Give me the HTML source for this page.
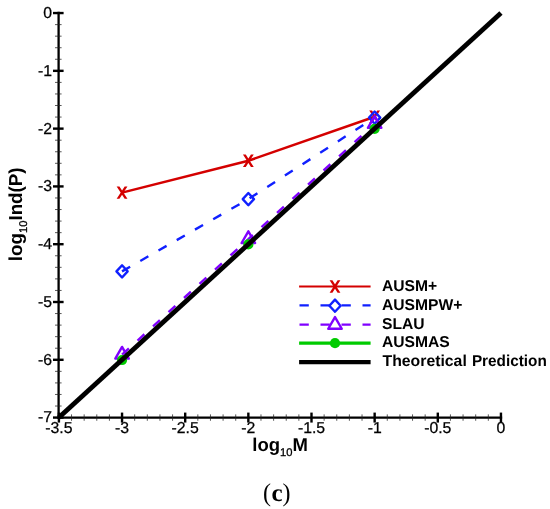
<!DOCTYPE html>
<html><head><meta charset="utf-8"><title>(c)</title>
<style>
html,body{margin:0;padding:0;background:#fff;}
svg{display:block}
text{font-family:"Liberation Sans",Arial,Helvetica,sans-serif;fill:#000;text-rendering:geometricPrecision}
.tk{font-size:15.8px;stroke:#000;stroke-width:0.25px}
.ttl{font-size:18.5px;font-weight:bold}
.sub{font-size:11.2px;font-weight:normal;stroke:#000;stroke-width:0.3px}
.lg{font-size:15.65px;font-weight:bold}
.cap{font-family:"Liberation Serif","Times New Roman",serif;font-size:24px}
</style></head><body>
<svg width="550" height="509" viewBox="0 0 550 509">
<rect width="550" height="509" fill="#fff"/>

<g stroke="#000" fill="none">
<line x1="58.60" y1="11.85" x2="58.60" y2="418.78" stroke-width="2.3"/>
<line x1="57.40" y1="417.58" x2="502.15" y2="417.58" stroke-width="2.3"/>
<line x1="53.00" y1="13.05" x2="63.60" y2="13.05" stroke-width="2.4"/>
<line x1="55.00" y1="24.61" x2="61.60" y2="24.61" stroke-width="0.75" stroke="#222"/>
<line x1="55.00" y1="36.17" x2="61.60" y2="36.17" stroke-width="0.75" stroke="#222"/>
<line x1="55.00" y1="47.72" x2="61.60" y2="47.72" stroke-width="0.75" stroke="#222"/>
<line x1="55.00" y1="59.28" x2="61.60" y2="59.28" stroke-width="0.75" stroke="#222"/>
<line x1="53.00" y1="70.84" x2="63.60" y2="70.84" stroke-width="2.4"/>
<line x1="55.00" y1="82.40" x2="61.60" y2="82.40" stroke-width="0.75" stroke="#222"/>
<line x1="55.00" y1="93.96" x2="61.60" y2="93.96" stroke-width="0.75" stroke="#222"/>
<line x1="55.00" y1="105.51" x2="61.60" y2="105.51" stroke-width="0.75" stroke="#222"/>
<line x1="55.00" y1="117.07" x2="61.60" y2="117.07" stroke-width="0.75" stroke="#222"/>
<line x1="53.00" y1="128.63" x2="63.60" y2="128.63" stroke-width="2.4"/>
<line x1="55.00" y1="140.19" x2="61.60" y2="140.19" stroke-width="0.75" stroke="#222"/>
<line x1="55.00" y1="151.75" x2="61.60" y2="151.75" stroke-width="0.75" stroke="#222"/>
<line x1="55.00" y1="163.30" x2="61.60" y2="163.30" stroke-width="0.75" stroke="#222"/>
<line x1="55.00" y1="174.86" x2="61.60" y2="174.86" stroke-width="0.75" stroke="#222"/>
<line x1="53.00" y1="186.42" x2="63.60" y2="186.42" stroke-width="2.4"/>
<line x1="55.00" y1="197.98" x2="61.60" y2="197.98" stroke-width="0.75" stroke="#222"/>
<line x1="55.00" y1="209.54" x2="61.60" y2="209.54" stroke-width="0.75" stroke="#222"/>
<line x1="55.00" y1="221.09" x2="61.60" y2="221.09" stroke-width="0.75" stroke="#222"/>
<line x1="55.00" y1="232.65" x2="61.60" y2="232.65" stroke-width="0.75" stroke="#222"/>
<line x1="53.00" y1="244.21" x2="63.60" y2="244.21" stroke-width="2.4"/>
<line x1="55.00" y1="255.77" x2="61.60" y2="255.77" stroke-width="0.75" stroke="#222"/>
<line x1="55.00" y1="267.33" x2="61.60" y2="267.33" stroke-width="0.75" stroke="#222"/>
<line x1="55.00" y1="278.88" x2="61.60" y2="278.88" stroke-width="0.75" stroke="#222"/>
<line x1="55.00" y1="290.44" x2="61.60" y2="290.44" stroke-width="0.75" stroke="#222"/>
<line x1="53.00" y1="302.00" x2="63.60" y2="302.00" stroke-width="2.4"/>
<line x1="55.00" y1="313.56" x2="61.60" y2="313.56" stroke-width="0.75" stroke="#222"/>
<line x1="55.00" y1="325.12" x2="61.60" y2="325.12" stroke-width="0.75" stroke="#222"/>
<line x1="55.00" y1="336.67" x2="61.60" y2="336.67" stroke-width="0.75" stroke="#222"/>
<line x1="55.00" y1="348.23" x2="61.60" y2="348.23" stroke-width="0.75" stroke="#222"/>
<line x1="53.00" y1="359.79" x2="63.60" y2="359.79" stroke-width="2.4"/>
<line x1="55.00" y1="371.35" x2="61.60" y2="371.35" stroke-width="0.75" stroke="#222"/>
<line x1="55.00" y1="382.91" x2="61.60" y2="382.91" stroke-width="0.75" stroke="#222"/>
<line x1="55.00" y1="394.46" x2="61.60" y2="394.46" stroke-width="0.75" stroke="#222"/>
<line x1="55.00" y1="406.02" x2="61.60" y2="406.02" stroke-width="0.75" stroke="#222"/>
<line x1="53.00" y1="417.58" x2="63.60" y2="417.58" stroke-width="2.4"/>
<line x1="58.90" y1="412.58" x2="58.90" y2="422.58" stroke-width="2.4"/>
<line x1="71.53" y1="414.38" x2="71.53" y2="420.78" stroke-width="0.75" stroke="#222"/>
<line x1="84.16" y1="414.38" x2="84.16" y2="420.78" stroke-width="0.75" stroke="#222"/>
<line x1="96.79" y1="414.38" x2="96.79" y2="420.78" stroke-width="0.75" stroke="#222"/>
<line x1="109.42" y1="414.38" x2="109.42" y2="420.78" stroke-width="0.75" stroke="#222"/>
<line x1="122.05" y1="412.58" x2="122.05" y2="422.58" stroke-width="2.4"/>
<line x1="134.68" y1="414.38" x2="134.68" y2="420.78" stroke-width="0.75" stroke="#222"/>
<line x1="147.31" y1="414.38" x2="147.31" y2="420.78" stroke-width="0.75" stroke="#222"/>
<line x1="159.94" y1="414.38" x2="159.94" y2="420.78" stroke-width="0.75" stroke="#222"/>
<line x1="172.57" y1="414.38" x2="172.57" y2="420.78" stroke-width="0.75" stroke="#222"/>
<line x1="185.20" y1="412.58" x2="185.20" y2="422.58" stroke-width="2.4"/>
<line x1="197.83" y1="414.38" x2="197.83" y2="420.78" stroke-width="0.75" stroke="#222"/>
<line x1="210.46" y1="414.38" x2="210.46" y2="420.78" stroke-width="0.75" stroke="#222"/>
<line x1="223.09" y1="414.38" x2="223.09" y2="420.78" stroke-width="0.75" stroke="#222"/>
<line x1="235.72" y1="414.38" x2="235.72" y2="420.78" stroke-width="0.75" stroke="#222"/>
<line x1="248.35" y1="412.58" x2="248.35" y2="422.58" stroke-width="2.4"/>
<line x1="260.98" y1="414.38" x2="260.98" y2="420.78" stroke-width="0.75" stroke="#222"/>
<line x1="273.61" y1="414.38" x2="273.61" y2="420.78" stroke-width="0.75" stroke="#222"/>
<line x1="286.24" y1="414.38" x2="286.24" y2="420.78" stroke-width="0.75" stroke="#222"/>
<line x1="298.87" y1="414.38" x2="298.87" y2="420.78" stroke-width="0.75" stroke="#222"/>
<line x1="311.50" y1="412.58" x2="311.50" y2="422.58" stroke-width="2.4"/>
<line x1="324.13" y1="414.38" x2="324.13" y2="420.78" stroke-width="0.75" stroke="#222"/>
<line x1="336.76" y1="414.38" x2="336.76" y2="420.78" stroke-width="0.75" stroke="#222"/>
<line x1="349.39" y1="414.38" x2="349.39" y2="420.78" stroke-width="0.75" stroke="#222"/>
<line x1="362.02" y1="414.38" x2="362.02" y2="420.78" stroke-width="0.75" stroke="#222"/>
<line x1="374.65" y1="412.58" x2="374.65" y2="422.58" stroke-width="2.4"/>
<line x1="387.28" y1="414.38" x2="387.28" y2="420.78" stroke-width="0.75" stroke="#222"/>
<line x1="399.91" y1="414.38" x2="399.91" y2="420.78" stroke-width="0.75" stroke="#222"/>
<line x1="412.54" y1="414.38" x2="412.54" y2="420.78" stroke-width="0.75" stroke="#222"/>
<line x1="425.17" y1="414.38" x2="425.17" y2="420.78" stroke-width="0.75" stroke="#222"/>
<line x1="437.80" y1="412.58" x2="437.80" y2="422.58" stroke-width="2.4"/>
<line x1="450.43" y1="414.38" x2="450.43" y2="420.78" stroke-width="0.75" stroke="#222"/>
<line x1="463.06" y1="414.38" x2="463.06" y2="420.78" stroke-width="0.75" stroke="#222"/>
<line x1="475.69" y1="414.38" x2="475.69" y2="420.78" stroke-width="0.75" stroke="#222"/>
<line x1="488.32" y1="414.38" x2="488.32" y2="420.78" stroke-width="0.75" stroke="#222"/>
<line x1="500.95" y1="412.58" x2="500.95" y2="422.58" stroke-width="2.4"/>
</g>
<text class="tk" x="52.0" y="17.95" text-anchor="end">0</text>
<text class="tk" x="52.0" y="75.74" text-anchor="end">-1</text>
<text class="tk" x="52.0" y="133.53" text-anchor="end">-2</text>
<text class="tk" x="52.0" y="191.32" text-anchor="end">-3</text>
<text class="tk" x="52.0" y="249.11" text-anchor="end">-4</text>
<text class="tk" x="52.0" y="306.90" text-anchor="end">-5</text>
<text class="tk" x="52.0" y="364.69" text-anchor="end">-6</text>
<text class="tk" x="52.0" y="422.48" text-anchor="end">-7</text>
<text class="tk" x="58.90" y="433.3" text-anchor="middle">-3.5</text>
<text class="tk" x="122.05" y="433.3" text-anchor="middle">-3</text>
<text class="tk" x="185.20" y="433.3" text-anchor="middle">-2.5</text>
<text class="tk" x="248.35" y="433.3" text-anchor="middle">-2</text>
<text class="tk" x="311.50" y="433.3" text-anchor="middle">-1.5</text>
<text class="tk" x="374.65" y="433.3" text-anchor="middle">-1</text>
<text class="tk" x="437.80" y="433.3" text-anchor="middle">-0.5</text>
<text class="tk" x="500.95" y="433.3" text-anchor="middle">0</text>
<text class="ttl" x="252.3" y="450.6">log<tspan class="sub" dy="5">10</tspan><tspan dy="-5">M</tspan></text>
<text class="ttl" style="font-size:18.8px" transform="translate(21.6,261.2) rotate(-90)">log<tspan class="sub" dy="5">10</tspan><tspan dy="-5">Ind(P)</tspan></text>
<polyline points="122.05,192.60 248.35,160.76 374.65,116.73" stroke="#d40000" stroke-width="2.5" fill="none"/>
<path d="M116.65 186.40L119.45 186.40L127.45 198.80L124.65 198.80ZM124.65 186.40L127.45 186.40L119.45 198.80L116.65 198.80Z" fill="#d40000" stroke="none"/>
<path d="M242.95 154.56L245.75 154.56L253.75 166.96L250.95 166.96ZM250.95 154.56L253.75 154.56L245.75 166.96L242.95 166.96Z" fill="#d40000" stroke="none"/>
<path d="M369.25 110.53L372.05 110.53L380.05 122.93L377.25 122.93ZM377.25 110.53L380.05 110.53L372.05 122.93L369.25 122.93Z" fill="#d40000" stroke="none"/>
<polyline points="122.05,271.37 248.35,199.13 374.65,117.65" stroke="#1020ff" stroke-width="2.4" fill="none" stroke-dasharray="9.3 11.7"/>
<path d="M116.45 271.37L122.05 265.27L127.65 271.37L122.05 277.47Z" stroke="#1020ff" stroke-width="2.4" fill="none" stroke-linejoin="round"/>
<path d="M242.75 199.13L248.35 193.03L253.95 199.13L248.35 205.23Z" stroke="#1020ff" stroke-width="2.4" fill="none" stroke-linejoin="round"/>
<path d="M369.05 117.65L374.65 111.55L380.25 117.65L374.65 123.75Z" stroke="#1020ff" stroke-width="2.4" fill="none" stroke-linejoin="round"/>
<polyline points="122.05,354.70 248.35,239.12 374.65,123.89" stroke="#8000ff" stroke-width="2.4" fill="none" stroke-dasharray="9.3 11.7"/>
<path d="M115.30 358.60L122.05 346.90L128.80 358.60Z" stroke="#8000ff" stroke-width="2.4" fill="none" stroke-linejoin="round"/>
<path d="M241.60 243.02L248.35 231.32L255.10 243.02Z" stroke="#8000ff" stroke-width="2.4" fill="none" stroke-linejoin="round"/>
<path d="M367.90 127.79L374.65 116.09L381.40 127.79Z" stroke="#8000ff" stroke-width="2.4" fill="none" stroke-linejoin="round"/>
<polyline points="122.05,360.02 248.35,244.44 374.65,128.80" stroke="#00cb00" stroke-width="3" fill="none"/>
<circle cx="122.05" cy="360.02" r="5.1" fill="#00cb00"/>
<circle cx="248.35" cy="244.44" r="5.1" fill="#00cb00"/>
<circle cx="374.65" cy="128.80" r="5.1" fill="#00cb00"/>
<line x1="58.90" y1="417.58" x2="500.95" y2="13.05" stroke="#000" stroke-width="4.8"/>
<line x1="299.1" y1="286.5" x2="370.6" y2="286.5" stroke="#d40000" stroke-width="2.0"/>
<path d="M329.60 280.30L332.40 280.30L340.40 292.70L337.60 292.70ZM337.60 280.30L340.40 280.30L332.40 292.70L329.60 292.70Z" fill="#d40000" stroke="none"/>
<line x1="299.1" y1="305.4" x2="370.6" y2="305.4" stroke="#1020ff" stroke-width="2.1" stroke-dasharray="9.3 11.7" stroke-dashoffset="-0.4"/>
<path d="M329.40 305.70L335.00 299.60L340.60 305.70L335.00 311.80Z" stroke="#1020ff" stroke-width="2.4" fill="none" stroke-linejoin="round"/>
<line x1="299.1" y1="324.55" x2="370.6" y2="324.55" stroke="#8000ff" stroke-width="2.2" stroke-dasharray="9.3 11.7" stroke-dashoffset="-0.4"/>
<path d="M328.25 328.75L335.00 317.05L341.75 328.75Z" stroke="#8000ff" stroke-width="2.4" fill="none" stroke-linejoin="round"/>
<line x1="299.1" y1="343.2" x2="370.6" y2="343.2" stroke="#00cb00" stroke-width="3.2"/>
<circle cx="335.00" cy="343.20" r="5.1" fill="#00cb00"/>
<line x1="299.1" y1="362.1" x2="370.6" y2="362.1" stroke="#000" stroke-width="4.3"/>
<text class="lg" x="382" y="291.30">AUSM+</text>
<text class="lg" x="382" y="310.10">AUSMPW+</text>
<text class="lg" x="382" y="328.70">SLAU</text>
<text class="lg" x="382" y="347.40">AUSMAS</text>
<text class="lg" style="font-size:15.8px" x="382.5" y="366.0">Theoretical</text>
<text class="lg" style="font-size:15.8px" x="471.9" y="366.0" textLength="74.9" lengthAdjust="spacingAndGlyphs">Prediction</text>
<g transform="translate(0,501.3) scale(1,1.07)"><text class="cap" x="263.1" y="0">(</text><text class="cap" x="282.4" y="0">)</text></g>
<text class="cap" style="font-size:25px" font-weight="bold" x="271.4" y="500.7">c</text>
</svg></body></html>
